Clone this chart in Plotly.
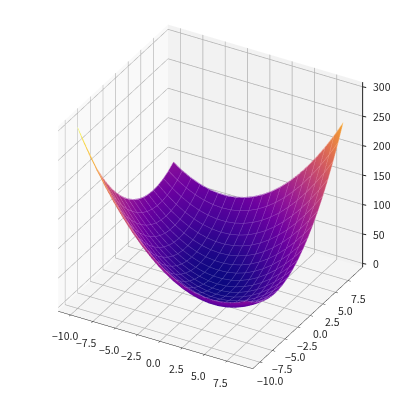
import plotly.graph_objects as go

x_values = [-10,-9,-8,-7,-6,-5,-4,-3,-2,-1,0,1,2,3,4,5,6,7,8,9]
y_values = [-10,-9,-8,-7,-6,-5,-4,-3,-2,-1,0,1,2,3,4,5,6,7,8,9]
z_rows = [
 [300,271,244,219,196,175,156,139,124,111,100,91,84,79,76,75,76,79,84,91],
 [271,243,217,193,171,151,133,117,103,91,81,73,67,63,61,61,63,67,73,81],
 [244,217,192,169,148,129,112,97,84,73,64,57,52,49,48,49,52,57,64,73],
 [219,193,169,147,127,109,93,79,67,57,49,43,39,37,37,39,43,49,57,67],
 [196,171,148,127,108,91,76,63,52,43,36,31,28,27,28,31,36,43,52,63],
 [175,151,129,109,91,75,61,49,39,31,25,21,19,19,21,25,31,39,49,61],
 [156,133,112,93,76,61,48,37,28,21,16,13,12,13,16,21,28,37,48,61],
 [139,117,97,79,63,49,37,27,19,13,9,7,7,9,13,19,27,37,49,63],
 [124,103,84,67,52,39,28,19,12,7,4,3,4,7,12,19,28,39,52,67],
 [111,91,73,57,43,31,21,13,7,3,1,1,3,7,13,21,31,43,57,73],
 [100,81,64,49,36,25,16,9,4,1,0,1,4,9,16,25,36,49,64,81],
 [91,73,57,43,31,21,13,7,3,1,1,3,7,13,21,31,43,57,73,91],
 [84,67,52,39,28,19,12,7,4,3,4,7,12,19,28,39,52,67,84,103],
 [79,63,49,37,27,19,13,9,7,7,9,13,19,27,37,49,63,79,97,117],
 [76,61,48,37,28,21,16,13,12,13,16,21,28,37,48,61,76,93,112,133],
 [75,61,49,39,31,25,21,19,19,21,25,31,39,49,61,75,91,109,129,151],
 [76,63,52,43,36,31,28,27,28,31,36,43,52,63,76,91,108,127,148,171],
 [79,67,57,49,43,39,37,37,39,43,49,57,67,79,93,109,127,147,169,193],
 [84,73,64,57,52,49,48,49,52,57,64,73,84,97,112,129,148,169,192,217],
 [91,81,73,67,63,61,61,63,67,73,81,91,103,117,133,151,171,193,217,243],
]
xy_ticks = [-10,-7.5,-5,-2.5,0,2.5,5,7.5]
xy_labels = ["−10.0","−7.5","−5.0","−2.5","0.0","2.5","5.0","7.5"]
z_ticks = [0,50,100,150,200,250,300]
z_labels = ["0","50","100","150","200","250","300"]
XY_RANGE = [-11.4, 10.4]
Z_RANGE = [-6, 308]

FONT = dict(family="Noto Sans CJK JP", size=10.5, color="#262626")
GRID = "#b0b0b0"
LINE_SCALE = ["#5652ab","#7e4fbc","#9c4dc2","#ba5dbb","#d173aa","#e48997","#f2a187","#fcbc75","#feda67","#f5fb64"]
LIFT = 1.0

def axis(ticks, labels, rng, bg):
    return dict(range=rng, tickvals=ticks, ticktext=labels, title=dict(text=""),
                showticklabels=False, gridcolor=GRID, gridwidth=1.5, showbackground=True,
                backgroundcolor=bg, showline=True, linecolor="#222222", linewidth=1,
                ticks="outside", ticklen=3, tickcolor="#222222", zeroline=False,
                showspikes=False)

surface = go.Surface(
    x=x_values, y=y_values, z=z_rows, colorscale="Plasma", cmin=0, cmax=300, showscale=False,
    hoverinfo="skip",
    lighting=dict(ambient=0.95, diffuse=0.1, specular=0.0, roughness=1, fresnel=0),
    lightposition=dict(x=-1000, y=-500, z=1000),
)
traces = [surface]

def mesh_line(xs, ys, zs):
    lifted = [v + LIFT for v in zs]
    return go.Scatter3d(x=xs, y=ys, z=lifted, mode="lines", hoverinfo="skip", showlegend=False,
                        line=dict(color=zs, colorscale=LINE_SCALE, cmin=0, cmax=300, width=1))

for i, yv in enumerate(y_values):
    traces.append(mesh_line(x_values, [yv]*len(x_values), z_rows[i]))
for j, xv in enumerate(x_values):
    traces.append(mesh_line([xv]*len(y_values), y_values, [row[j] for row in z_rows]))

traces.append(go.Scatter3d(x=[XY_RANGE[1]]*2, y=[XY_RANGE[1]]*2, z=Z_RANGE, mode="lines",
                           line=dict(color="#222222", width=2), hoverinfo="skip", showlegend=False))
fig = go.Figure(traces)

annotations = []
for v, lab in zip(z_ticks, z_labels):
    annotations.append(dict(x=XY_RANGE[1], y=XY_RANGE[1], z=v, text=lab, showarrow=False,
                            xanchor="left", xshift=8, font=FONT))
    annotations.append(dict(x=XY_RANGE[1], y=XY_RANGE[1], z=v, text=" ", showarrow=True, arrowhead=0,
                            arrowwidth=1, arrowcolor="#222222", ax=5, ay=1, font=dict(size=1)))
for v, lab in zip(xy_ticks, xy_labels):
    annotations.append(dict(x=v, y=XY_RANGE[0], z=Z_RANGE[0], text=lab, showarrow=False,
                            xshift=-6, yshift=-21, font=FONT))
    annotations.append(dict(x=XY_RANGE[1], y=v, z=Z_RANGE[0], text=lab, showarrow=False,
                            xshift=10, yshift=-18, font=FONT))

z_axis = axis(z_ticks, z_labels, Z_RANGE, "#f5f5f5")
z_axis.update(showline=False, ticks="")

R = 2.24
S = 1.115
fig.update_layout(
    width=412, height=401, margin=dict(l=0, r=0, t=0, b=0), paper_bgcolor="white",
    scene=dict(
        domain=dict(x=[0, 1], y=[0, 1]),
        xaxis=axis(xy_ticks, xy_labels, XY_RANGE, "#f9f9f9"),
        yaxis=axis(xy_ticks, xy_labels, XY_RANGE, "#f2f2f2"),
        zaxis=z_axis,
        annotations=annotations,
        aspectmode="manual", aspectratio=dict(x=S, y=S, z=0.97*S),
        camera=dict(eye=dict(x=0.433*R, y=-0.75*R, z=0.5*R), center=dict(x=0.015, y=0.01, z=-0.07),
                    up=dict(x=0, y=0, z=1), projection=dict(type="orthographic")),
    ),
)
fig.write_html("out.html")
